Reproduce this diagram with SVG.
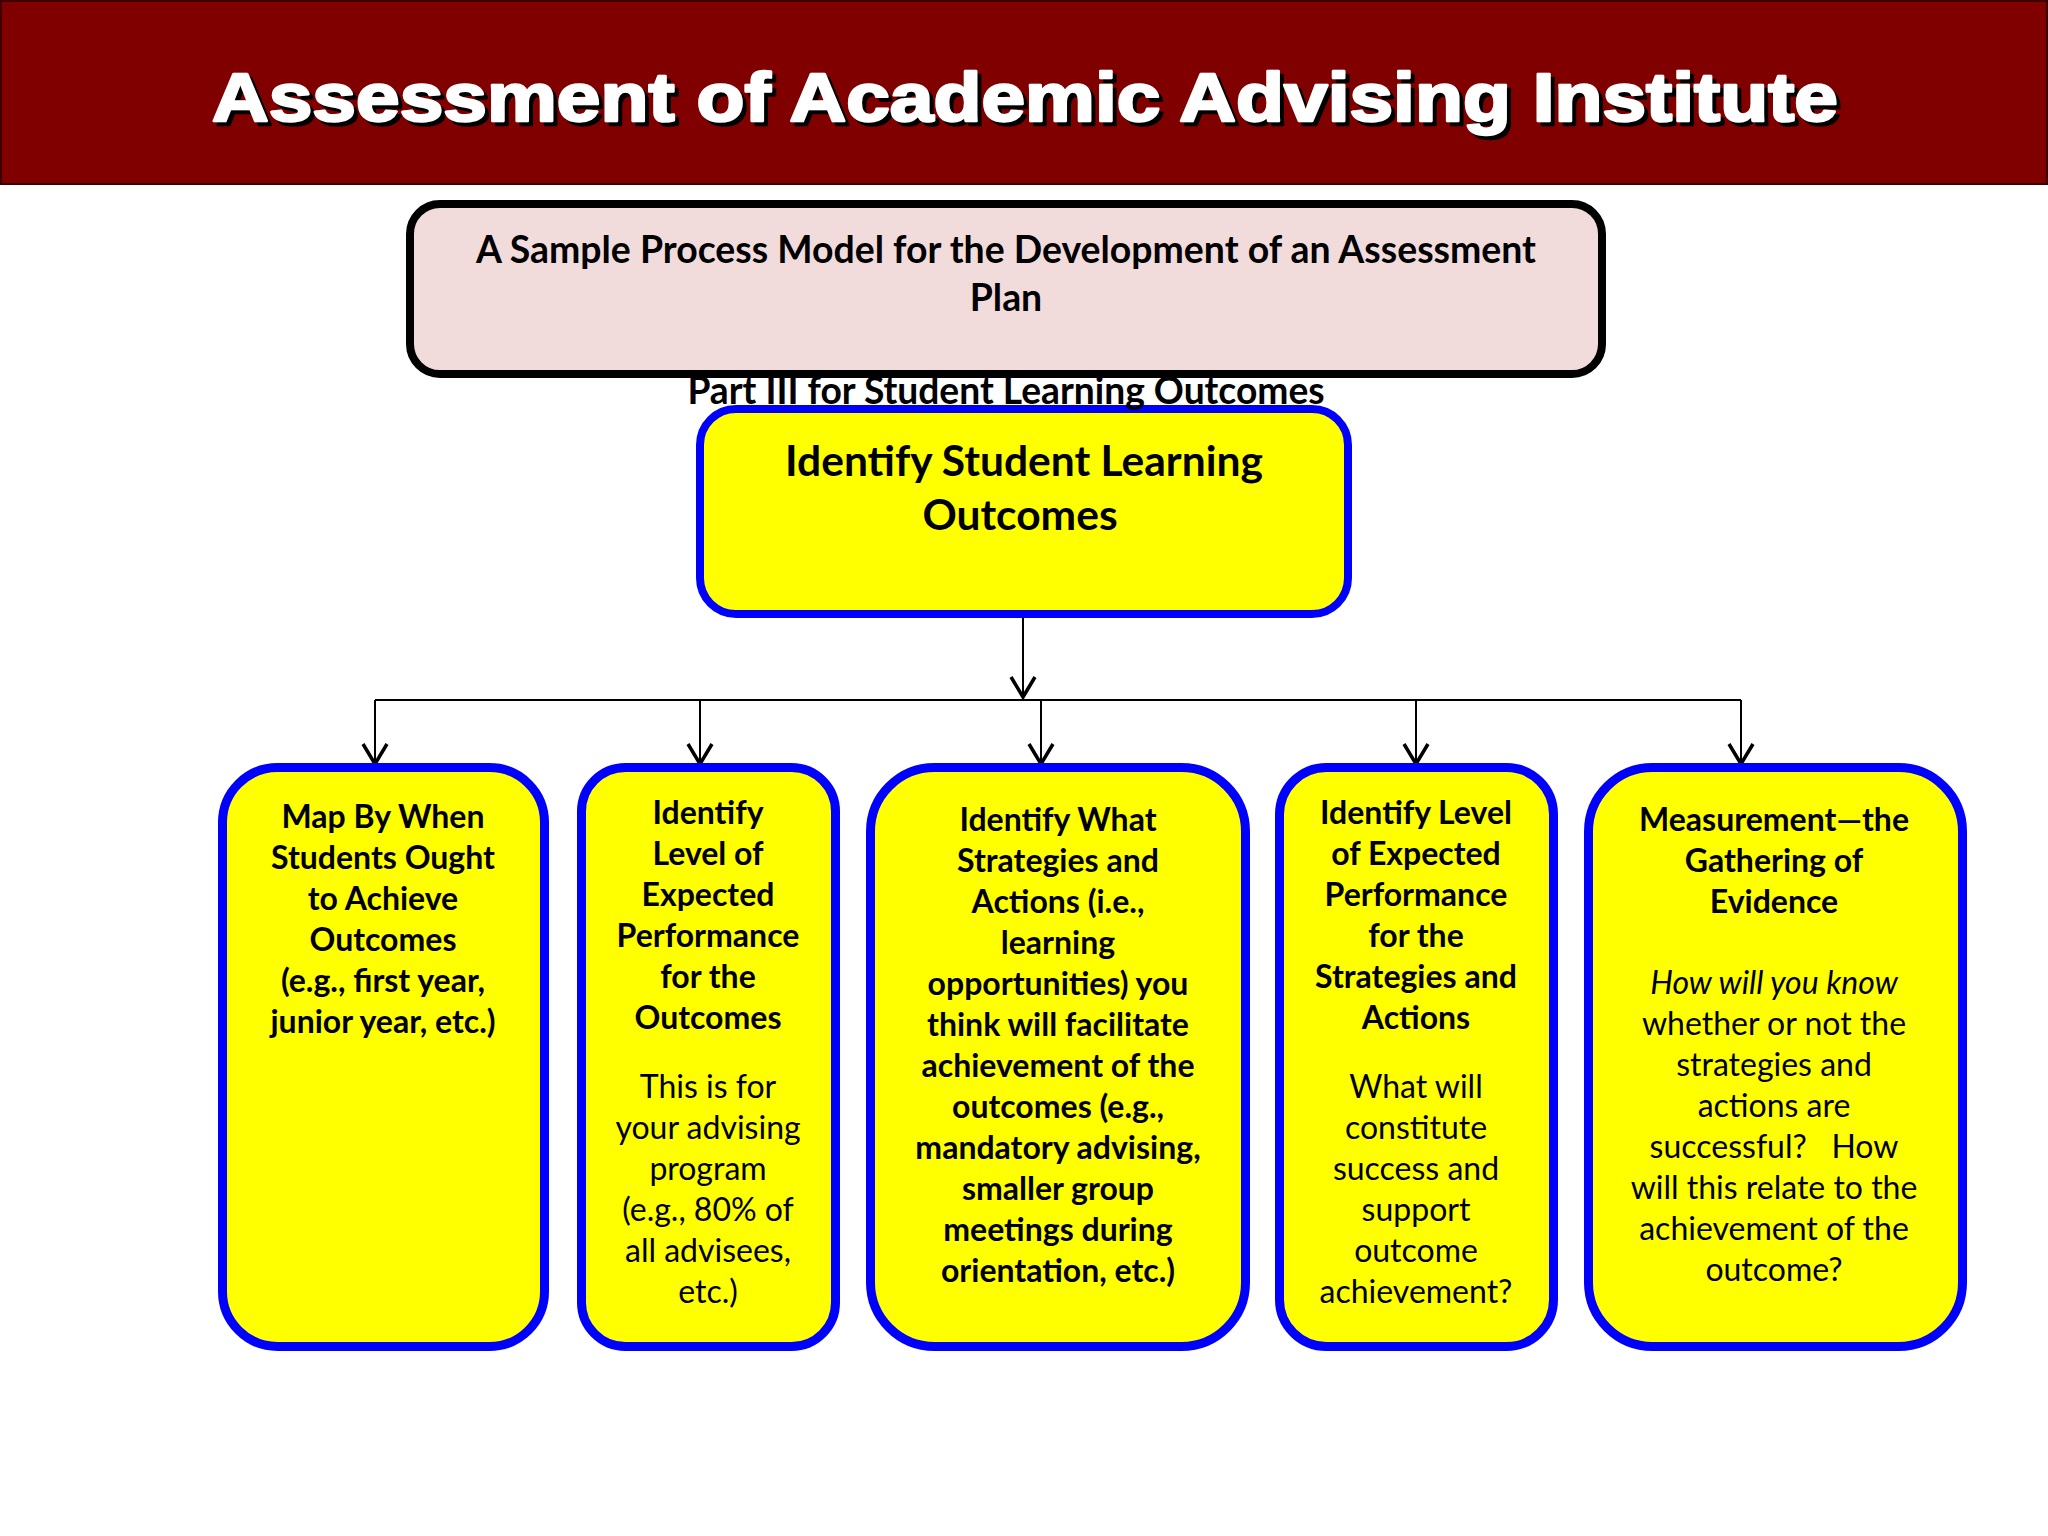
<svg xmlns="http://www.w3.org/2000/svg" width="2048" height="1536" viewBox="0 0 2048 1536">
<defs>
<style>
.box{fill:#ffff00;stroke:#0000ff;stroke-width:9}
.t{font-family:Lato,"Open Sans","DejaVu Sans",sans-serif;fill:#000;text-anchor:middle}
.b{font-weight:bold;font-size:32px}
.r{font-size:32px}
.i{font-style:italic}
.conn{stroke:#000;stroke-width:2;fill:none}
.title{font-family:"Liberation Sans",Arial,sans-serif;font-weight:bold;font-size:68px;text-anchor:middle;stroke-width:2.5;stroke-linejoin:round}
</style>
<marker id="arr" markerUnits="userSpaceOnUse" markerWidth="30" markerHeight="30" refX="24" refY="15" orient="auto" overflow="visible">
<path d="M4,3 L24,15 L4,27" fill="none" stroke="#000" stroke-width="3.5"/>
</marker>
</defs>
<rect width="2048" height="1536" fill="#ffffff"/>
<g id="header">
<rect x="1" y="1" width="2046" height="183" fill="#800000" stroke="#3c0000" stroke-width="2"/>
<text class="title" x="1029" y="125" fill="#000" stroke="#000" textLength="1626" lengthAdjust="spacingAndGlyphs">Assessment of Academic Advising Institute</text>
<text class="title" x="1025" y="121" fill="#ffffff" stroke="#ffffff" textLength="1626" lengthAdjust="spacingAndGlyphs">Assessment of Academic Advising Institute</text>
</g>
<g id="plan">
<rect x="410" y="204" width="1192" height="170" rx="30" ry="30" fill="#f2dcdb" stroke="#000" stroke-width="8"/>
<text class="t" x="1006" y="263" font-weight="bold" font-size="37.4">A Sample Process Model for the Development of an Assessment</text>
<text class="t" x="1006" y="311" font-weight="bold" font-size="37.4">Plan</text>
</g>
<g id="connectors">
<line class="conn" x1="1023" y1="618" x2="1023" y2="697" marker-end="url(#arr)"/>
<line class="conn" x1="375" y1="700" x2="1741" y2="700"/>
<line class="conn" x1="375" y1="700" x2="375" y2="764" marker-end="url(#arr)"/>
<line class="conn" x1="700" y1="700" x2="700" y2="764" marker-end="url(#arr)"/>
<line class="conn" x1="1041" y1="700" x2="1041" y2="764" marker-end="url(#arr)"/>
<line class="conn" x1="1416" y1="700" x2="1416" y2="764" marker-end="url(#arr)"/>
<line class="conn" x1="1741" y1="700" x2="1741" y2="764" marker-end="url(#arr)"/>
</g>
<g id="top">
<rect x="700" y="409" width="648" height="205" rx="36" ry="36" fill="#ffff00" stroke="#0000ff" stroke-width="8"/>
<text class="t" x="1024" y="476" font-weight="bold" font-size="42.5">Identify Student Learning</text>
<text class="t" x="1020" y="530" font-weight="bold" font-size="42.5">Outcomes</text>
</g>
<g id="partlabel">
<text class="t" x="1006" y="404" font-weight="bold" font-size="37.2">Part III for Student Learning Outcomes</text>
</g>
<g id="box1">
<rect class="box" x="222.5" y="767.5" width="322" height="579" rx="55" ry="55"/>
<text class="t b"><tspan x="383" y="828">Map By When</tspan><tspan x="383" y="869">Students Ought</tspan><tspan x="383" y="910">to Achieve</tspan><tspan x="383" y="951">Outcomes</tspan><tspan x="383" y="992">(e.g., first year,</tspan><tspan x="383" y="1033">junior year, etc.)</tspan></text>
</g>
<g id="box2">
<rect class="box" x="581.5" y="767.5" width="254" height="579" rx="44" ry="44"/>
<text class="t b"><tspan x="708" y="824">Identify</tspan><tspan x="708" y="865">Level of</tspan><tspan x="708" y="906">Expected</tspan><tspan x="708" y="947">Performance</tspan><tspan x="708" y="988">for the</tspan><tspan x="708" y="1029">Outcomes</tspan></text>
<text class="t r"><tspan x="708" y="1098">This is for</tspan><tspan x="708" y="1139">your advising</tspan><tspan x="708" y="1180">program</tspan><tspan x="708" y="1221">(e.g., 80% of</tspan><tspan x="708" y="1262">all advisees,</tspan><tspan x="708" y="1303">etc.)</tspan></text>
</g>
<g id="box3">
<rect class="box" x="870.5" y="767.5" width="375" height="579" rx="64" ry="64"/>
<text class="t b"><tspan x="1058" y="831">Identify What</tspan><tspan x="1058" y="872">Strategies and</tspan><tspan x="1058" y="913">Actions (i.e.,</tspan><tspan x="1058" y="954">learning</tspan><tspan x="1058" y="995">opportunities) you</tspan><tspan x="1058" y="1036">think will facilitate</tspan><tspan x="1058" y="1077">achievement of the</tspan><tspan x="1058" y="1118">outcomes (e.g.,</tspan><tspan x="1058" y="1159">mandatory advising,</tspan><tspan x="1058" y="1200">smaller group</tspan><tspan x="1058" y="1241">meetings during</tspan><tspan x="1058" y="1282">orientation, etc.)</tspan></text>
</g>
<g id="box4">
<rect class="box" x="1279.5" y="767.5" width="274" height="579" rx="47" ry="47"/>
<text class="t b"><tspan x="1416" y="824">Identify Level</tspan><tspan x="1416" y="865">of Expected</tspan><tspan x="1416" y="906">Performance</tspan><tspan x="1416" y="947">for the</tspan><tspan x="1416" y="988">Strategies and</tspan><tspan x="1416" y="1029">Actions</tspan></text>
<text class="t r"><tspan x="1416" y="1098">What will</tspan><tspan x="1416" y="1139">constitute</tspan><tspan x="1416" y="1180">success and</tspan><tspan x="1416" y="1221">support</tspan><tspan x="1416" y="1262">outcome</tspan><tspan x="1416" y="1303">achievement?</tspan></text>
</g>
<g id="box5">
<rect class="box" x="1588.5" y="767.5" width="374" height="579" rx="64" ry="64"/>
<text class="t b"><tspan x="1774" y="831">Measurement—the</tspan><tspan x="1774" y="872">Gathering of</tspan><tspan x="1774" y="913">Evidence</tspan></text>
<text class="t r"><tspan class="i" x="1774" y="994">How will you know</tspan><tspan x="1774" y="1035">whether or not the</tspan><tspan x="1774" y="1076">strategies and</tspan><tspan x="1774" y="1117">actions are</tspan><tspan x="1774" y="1158" xml:space="preserve">successful?   How</tspan><tspan x="1774" y="1199">will this relate to the</tspan><tspan x="1774" y="1240">achievement of the</tspan><tspan x="1774" y="1281">outcome?</tspan></text>
</g>
</svg>
